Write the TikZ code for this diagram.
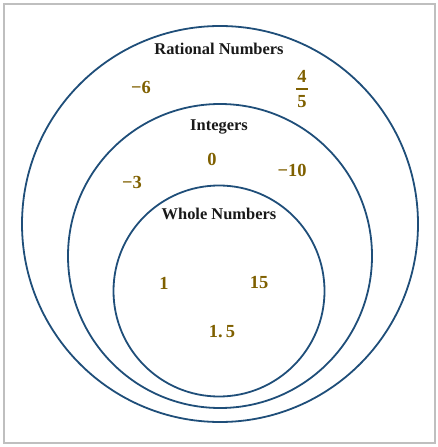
\documentclass[tikz,border=0pt]{standalone}
\usepackage{fontspec}
\setmainfont{Liberation Serif}
\definecolor{ringblue}{HTML}{1F4E79}
\definecolor{numgold}{HTML}{7F6000}
\definecolor{framegray}{HTML}{BFBFBF}
\tikzset{
  ring/.style={draw=ringblue, line width=1.8bp},
  setlabel/.style={font=\bfseries\fontsize{16.5}{18}\selectfont, text=black!90, inner sep=0pt},
  num/.style={font=\bfseries\fontsize{18.5}{20}\selectfont, text=numgold, inner sep=0pt},
}
\begin{document}
\begin{tikzpicture}[x=1bp,y=-1bp]
\useasboundingbox (0,0) rectangle (438,447);
\draw[framegray, line width=1.2bp] (4,4) rectangle (435,443);
% circles
\node[ring, circle, minimum size=396bp, inner sep=0pt] (rational) at (220,224) {};
\node[ring, circle, minimum size=304bp, inner sep=0pt] (integers) at (220,256) {};
\node[ring, circle, minimum size=211bp, inner sep=0pt] (whole) at (219,291) {};
% labels
\node[setlabel] (lrat) at (219,49) {Rational Numbers};
\node[setlabel] (lint) at (219,127) {Integers};
\node[setlabel] (lwho) at (219,214) {Whole Numbers};
% numbers
\node[num] (m6) at (141,87) {−6};
\node[num] (n4) at (302,76) {4};
\node[num] (n5) at (302,102) {5};
\draw[numgold, line width=1.3bp] (296,89) -- (308,89);
\node[num] (z0) at (212,159) {0};
\node[num] (m3) at (132,182) {−3};
\node[num] (m10) at (292,170) {−10};
\node[num] (one) at (164,283) {1};
\node[num] (fif) at (259,283) {15};
\node[num] (onefive) at (222,332) {1.\,5};
\end{tikzpicture}
\end{document}
